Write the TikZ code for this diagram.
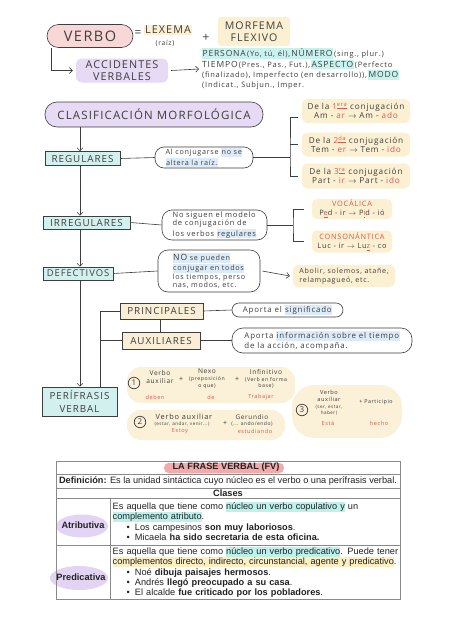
\documentclass[tikz,border=0pt]{standalone}
\usepackage{fontspec}
\setmainfont{Open Sans}
\newfontfamily\hand[LetterSpace=10]{Open Sans}
\newfontfamily\arial{Liberation Sans}
\usetikzlibrary{arrows.meta,calc}
\definecolor{ink}{HTML}{3E3E3E}
\definecolor{pinkF}{HTML}{F8D8D6}
\definecolor{yelF}{HTML}{FCF0D2}
\definecolor{purF}{HTML}{E6DAF5}
\definecolor{cyanF}{HTML}{D2F1EE}
\definecolor{hlC}{HTML}{C8F2EE}
\definecolor{hlB}{HTML}{DCEBF8}
\definecolor{redT}{HTML}{E2574C}
\definecolor{beigeF}{HTML}{FAEFD6}
\definecolor{blobF}{HTML}{FBF0D8}
\definecolor{tgray}{HTML}{8A8A8A}
\definecolor{tpink}{HTML}{F4AAAA}
\definecolor{tpur}{HTML}{E4D4F4}
\definecolor{tcyan}{HTML}{BDF1EC}
\definecolor{tyel}{HTML}{FCEFC2}
\definecolor{ttext}{HTML}{222222}
\newcommand\setfs[2]{\fontsize{#1}{#2}\selectfont}
\newcommand\rd[1]{\textcolor{redT}{#1}}
\newcommand\hlb[2]{{\setlength{\fboxsep}{0.4pt}\colorbox{#1}{\vphantom{Ág}#2}}}
\newcommand\hlt[2]{{\setlength{\fboxsep}{0pt}\colorbox{#1}{\vphantom{Ág}#2}}}
\begin{document}
\begin{tikzpicture}[x=1pt,y=-1pt,
  conn/.style={draw=ink, line width=0.6pt},
  arr/.style={conn, -{Straight Barb[length=3pt,width=6pt]}},
  capbox/.style={draw=ink, line width=0.6pt, fill=cyanF, inner sep=0pt, font=\hand\setfs{9.8}{12}, text=ink, align=center},
  beigebox/.style={capbox, fill=beigeF},
  bubble/.style={draw=ink, line width=0.6pt, fill=white, rounded corners=8pt, inner sep=0pt, font=\hand\setfs{7.2}{8.5}, align=left, text=ink},
  ybox/.style={fill=yelF, rounded corners=5pt, inner sep=0pt, font=\hand\setfs{8.2}{9.6}, align=center, text=ink},
  blob/.style={fill=blobF, rounded corners=14pt, inner sep=0pt},
  num/.style={circle, draw=ink, line width=0.7pt, minimum size=11.5pt, inner sep=0pt, font=\setfs{8}{8}, text=ink},
  sm/.style={font=\hand\setfs{6.6}{7.2}, align=center, inner sep=0pt, text=ink},
  tiny/.style={font=\hand\setfs{4.6}{5.2}, align=center, inner sep=0pt, text=ink},
  plus/.style={font=\setfs{7}{7}, inner sep=0pt, text=ink},
  red/.style={font=\hand\setfs{5.6}{6}, inner sep=0pt, text=redT},
  tbl/.style={font=\arial\setfs{9.2}{10.2}, text=ttext, inner sep=0pt},
  tblb/.style={font=\arial\bfseries\setfs{9.2}{10.2}, text=ttext, inner sep=0pt}
]
\useasboundingbox (0,0) rectangle (453,640);
\fill[white] (0,0) rectangle (453,640);

% ---------- top ----------
\node[capbox, fill=pinkF, rounded corners=11.5pt, minimum width=86pt, minimum height=23pt, font=\hand\setfs{14.5}{15}] (verbo) at (90,36) {VERBO};
\node[font=\setfs{12}{12}, text=ink, inner sep=0pt] (eq) at (138,34) {=};
\node[fill=yelF, inner sep=1pt, font=\hand\setfs{10.8}{11}, text=ink] (lex) at (168,30) {LEXEMA};
\node[font=\hand\setfs{6.8}{7}, text=ink, inner sep=0pt] (raiz) at (165,43) {(raíz)};
\node[font=\setfs{12}{12}, text=ink, inner sep=0pt] (pl) at (206,38) {+};
\node[fill=yelF, rounded corners=3pt, minimum width=72pt, minimum height=29pt, inner sep=0pt, font=\hand\setfs{10.6}{11.5}, align=center, text=ink] (morf) at (254,31.5) {MORFEMA\\FLEXIVO};

\node[fill=purF, rounded corners=6pt, minimum width=92pt, minimum height=24pt, inner sep=0pt, font=\hand\setfs{10.8}{11.3}, align=center, text=ink] (acc) at (122,70.5) {ACCIDENTES\\VERBALES};
\draw[arr, shorten >=3pt] ([xshift=-39pt]verbo.south) |- (acc.west);

\node[anchor=west, inner sep=0pt, align=left, text=ink, font=\hand\setfs{7.5}{10.4}] (acct) at (202,69)
{\hlb{hlC}{\setfs{8.5}{10.4}PERSONA\setfs{7.5}{10.4}\,(Yo, tú, él),\,\setfs{8.5}{10.4}NÚMERO}\,(sing., plur.)\\
{\setfs{8.5}{10.4}TIEMPO}\,(Pres., Pas., Fut.),\,\hlb{hlC}{\setfs{8.5}{10.4}ASPECTO}\,(Perfecto\\
(finalizado), Imperfecto (en desarrollo)),\,\hlb{hlC}{\setfs{8.5}{10.4}MODO}\\
(Indicat., Subjun., Imper.};
\draw[arr] ([xshift=3pt]acc.east) -- ([xshift=-3pt]acct.west);

% ---------- clasificacion ----------
\node[fill=purF, draw=ink, line width=0.6pt, rounded corners=12pt, minimum width=218pt, minimum height=25pt, inner sep=0pt, font=\hand\setfs{11.5}{12}, text=ink] (clas) at (154,114.5) {CLASIFICACIÓN MORFOLÓGICA};
\coordinate (spine) at (80,0);

\node[capbox, minimum width=75pt, minimum height=14pt] (reg) at (82.5,158.5) {REGULARES};
\node[capbox, minimum width=87pt, minimum height=13pt] (irr) at (86.5,222.5) {IRREGULARES};
\node[capbox, minimum width=70pt, minimum height=13pt, font=\hand\setfs{9.4}{12}] (def) at (78,273.5) {DEFECTIVOS};
\node[capbox, minimum width=75pt, minimum height=29pt, font=\hand\setfs{9.8}{12.5}] (per) at (79.5,401.5) {PERÍFRASIS\\VERBAL};

\draw[arr] (spine |- clas.south) -- (spine |- reg.north);
\draw[arr] (spine |- reg.south) -- (spine |- irr.north);
\draw[arr] (spine |- irr.south) -- (spine |- def.north);
\draw[arr] (spine |- def.south) -- (spine |- per.north);

% regulares
\node[bubble, minimum width=98pt, minimum height=21pt, rounded corners=9pt] (b1) at (204,157.5)
  {Al conjugarse \hlb{hlB}{no se}\\\hlb{hlB}{altera la raíz.}};
\draw[conn] (reg.east) -- (b1.west);
\node[ybox, minimum width=108pt, minimum height=24pt] (y1) at (356,111)
  {De la \rd{1\textsuperscript{\underline{era}}} conjugación\\Am - \rd{ar} $\rightarrow$ Am - \rd{ado}};
\node[ybox, minimum width=108pt, minimum height=24pt] (y2) at (356,144.5)
  {De la \rd{2\textsuperscript{\underline{da}}} conjugación\\Tem - \rd{er} $\rightarrow$ Tem - \rd{ido}};
\node[ybox, minimum width=108pt, minimum height=25pt] (y3) at (356,176)
  {De la \rd{3\textsuperscript{\underline{ra}}} conjugación\\Part - \rd{ir} $\rightarrow$ Part - \rd{ido}};
\coordinate (k1) at (290,157.5);
\draw[conn] (b1.east) -- (k1);
\draw[conn] ([xshift=-4pt,yshift=-6pt]y1.west) -| (k1) |- ([xshift=-4pt]y3.west);
\draw[conn] (k1 |- y2.west) -- ([xshift=-4pt]y2.west);

% irregulares
\node[bubble, minimum width=105pt, minimum height=30pt, font=\hand\setfs{7.5}{8.6}, rounded corners=10pt] (b2) at (214.5,225)
  {No siguen el modelo\\de conjugación de\\los verbos \hlb{hlB}{regulares}};
\draw[conn] (irr.east) -- (b2.west);
\node[ybox, minimum width=80pt, minimum height=20pt, font=\hand\setfs{7.4}{9}] (voc) at (352,209)
  {\rd{VOCÁLICA}\\P\rd{\underline{e}}d - ir $\rightarrow$ P\rd{\underline{i}}d - ió};
\node[ybox, minimum width=80pt, minimum height=22pt, font=\hand\setfs{7.4}{9}] (con) at (352,241.5)
  {\rd{CONSONÁNTICA}\\Luc - ir $\rightarrow$ Lu\rd{\underline{z}} - co};
\coordinate (k2) at (293,225);
\draw[conn] (b2.east) -- (k2);
\draw[conn] ([xshift=-8pt]voc.west) -| (k2) |- ([xshift=-8pt]con.west);

% defectivos
\node[bubble, minimum width=102pt, minimum height=42pt, rounded corners=10pt] (b3) at (209,271)
  {\hlb{hlB}{{\setfs{8.6}{8.6}NO} se pueden}\\\hlb{hlB}{conjugar en todos}\\los tiempos, perso\\nas, modos, etc.};
\draw[conn] (def.east) -- (b3.west);
\node[ybox, minimum width=102pt, minimum height=22pt, align=left, font=\hand\setfs{7.1}{9}] (ab) at (344,276)
  {Abolir, solemos, atañe,\\relampagueó, etc.};
\draw[arr] ([xshift=2pt]b3.east) -- ([xshift=-3pt]ab.west);

% perifrasis
\node[beigebox, minimum width=83pt, minimum height=16pt] (pri) at (161.5,311) {PRINCIPALES};
\node[beigebox, minimum width=78pt, minimum height=17pt] (aux) at (161,340.5) {AUXILIARES};
\draw[conn] ([xshift=21pt]per.north) |- (pri.west);
\draw[conn] ([xshift=21pt]per.north |- aux.west) -- (aux.west);
\draw[conn] ([xshift=-1pt]pri.south) -- ([xshift=-1pt]pri.south |- aux.north);
\node[bubble, minimum width=111pt, minimum height=14pt, rounded corners=7pt, font=\hand\setfs{7.9}{9}] (b4) at (287.5,310) {Aporta el \hlb{hlB}{significado}};
\node[bubble, minimum width=180pt, minimum height=25pt, rounded corners=11pt, font=\hand\setfs{7.9}{9.4}] (b5) at (322,340.5)
  {Aporta \hlb{hlB}{información sobre el tiempo}\\de la acción, acompaña.};
\draw[conn] (pri.east) -- (b4.west);
\draw[conn] (aux.east) -- (b5.west);

% blobs
\node[blob, minimum width=168pt, minimum height=36pt] (bl1) at (211,385) {};
\node[blob, minimum width=158pt, minimum height=30pt] (bl2) at (206,425) {};
\node[blob, minimum width=110pt, minimum height=53pt, rounded corners=22pt] (bl3) at (347,411.5) {};

\node[num] (n1) at (134,383) {1};
\node[sm] (v1) at (160,377) {Verbo\\auxiliar};
\node[plus] (p1) at (181,379) {+};
\node[sm, font=\hand\setfs{6.6}{6.8}] (nx) at (207,379) {Nexo\\{\setfs{5.2}{6.8}(preposición}\\{\setfs{5.2}{6.8}o que)}};
\node[plus] (p2) at (237,379) {+};
\node[sm, font=\hand\setfs{6.6}{6.8}] (inf) at (266,379) {Infinitivo\\{\setfs{5.2}{6.8}(Verb en forma}\\{\setfs{5.2}{6.8}base)}};
\node[red] (r1) at (155,397) {deben};
\node[red] (r2) at (211,397) {de};
\node[red] (r3) at (261,397) {Trabajar};

\node[num] (n2) at (140,422) {2};
\node[sm, font=\hand\setfs{7.4}{7.4}] (v2) at (184,417) {Verbo auxiliar};
\node[tiny] (v2b) at (182,424) {(estar, andar, venir...)};
\node[plus] (p3) at (225,423) {+};
\node[sm, font=\hand\setfs{6.4}{7}] (g2) at (252,417) {Gerundio};
\node[tiny, font=\hand\setfs{5}{5.2}] (g2b) at (252,424) {(... ando/endo)};
\node[red] (r4) at (180,431) {Estoy};
\node[red] (r5) at (255,431) {estudiando};

\node[num] (n3) at (302,410) {3};
\node[sm, font=\hand\setfs{5.6}{6.6}] (v3) at (329,403) {Verbo\\auxiliar\\{\setfs{4.6}{6.6}(ser, estar,}\\{\setfs{4.6}{6.6}haber)}};
\node[sm, font=\hand\setfs{5.4}{6}] (pp) at (376,402) {+ Participio};
\node[red] (r6) at (328,423) {Está};
\node[red] (r7) at (379,423) {hecho};

% ---------- table ----------
\node[fill=tpink, rounded corners=5pt, minimum width=120pt, minimum height=10.5pt, inner sep=0pt] (thl) at (224,468) {};
\fill[tpur] (82,526) ellipse (26pt and 11.5pt);
\fill[tpur] (79,578) ellipse (29pt and 12pt);
\begin{scope}[draw=tgray, line width=0.5pt]
\draw (56,461) rectangle (400,599);
\draw (56,474) -- (400,474);
\draw (56,488) -- (400,488);
\draw (56,498) -- (400,498);
\draw (56,545.5) -- (400,545.5);
\draw (110,498) -- (110,599);
\end{scope}
\node[tblb] (ttl) at (226,467.5) {LA FRASE VERBAL (FV)};
\node[tbl] (tdef) at (228,481) {\textbf{Definición:} Es la unidad sintáctica cuyo núcleo es el verbo o una perífrasis verbal.};
\node[tblb] (tcl) at (228,493) {Clases};
\node[tblb] (tat) at (83,525.5) {Atributiva};
\node[tblb] (tpr) at (81,577.5) {Predicativa};
\node[tbl, anchor=north west, text width=286pt] (tatx) at (112.5,501.5)
{Es aquella que tiene como \hlt{tcyan}{núcleo un verbo copulativo y} un\linebreak
\hlt{tcyan}{complemento atributo}.\\
\hspace*{14pt}\textbullet\hspace{5pt}Los campesinos \textbf{son muy laboriosos}.\\
\hspace*{14pt}\textbullet\hspace{5pt}Micaela \textbf{ha sido secretaria de esta oficina.}};
\node[tbl, anchor=north west, text width=286pt] (tprx) at (112.5,546.5)
{Es aquella que tiene como \hlt{tcyan}{núcleo un verbo predicativo}. Puede tener\linebreak
\hlt{tyel}{complementos directo, indirecto, circunstancial, agente y predicativo}.\\
\hspace*{14pt}\textbullet\hspace{5pt}Noé \textbf{dibuja paisajes hermosos}.\\
\hspace*{14pt}\textbullet\hspace{5pt}Andrés \textbf{llegó preocupado a su casa}.\\
\hspace*{14pt}\textbullet\hspace{5pt}El alcalde \textbf{fue criticado por los pobladores}.};
\end{tikzpicture}
\end{document}
